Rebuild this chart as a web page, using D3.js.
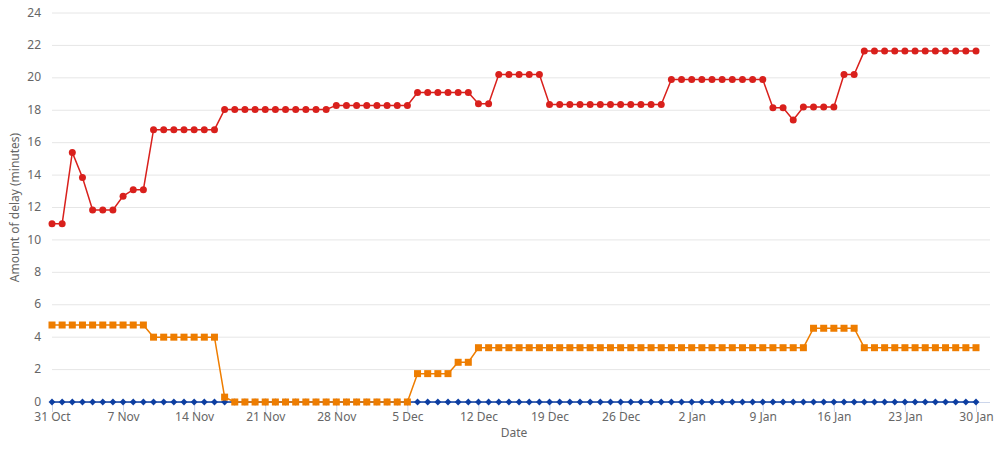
<!DOCTYPE html>
<html><head><meta charset="utf-8">
<script src="https://cdn.jsdelivr.net/npm/d3@7"></script>
<style>body{margin:0;background:#fff;font-family:"Noto Sans",sans-serif}</style>
</head><body><div id="chart"></div>
<script>
// values per day, from 31 Oct
const startDate = new Date(2021, 9, 31);
const redSeries = [11.0,11.0,15.4,13.85,11.85,11.85,11.85,12.7,13.1,13.1,
  16.8,16.8,16.8,16.8,16.8,16.8,16.8,
  18.05,18.05,18.05,18.05,18.05,18.05,18.05,18.05,18.05,18.05,18.05,
  18.3,18.3,18.3,18.3,18.3,18.3,18.3,18.3,
  19.1,19.1,19.1,19.1,19.1,19.1,18.4,18.4,20.2,20.2,20.2,20.2,20.2,
  18.35,18.35,18.35,18.35,18.35,18.35,18.35,18.35,18.35,18.35,18.35,18.35,
  19.9,19.9,19.9,19.9,19.9,19.9,19.9,19.9,19.9,19.9,
  18.15,18.15,17.4,18.2,18.2,18.2,18.2,20.2,20.2,
  21.65,21.65,21.65,21.65,21.65,21.65,21.65,21.65,21.65,21.65,21.65,21.65];
const orangeSeries = [4.75,4.75,4.75,4.75,4.75,4.75,4.75,4.75,4.75,4.75,
  4.0,4.0,4.0,4.0,4.0,4.0,4.0,0.3,
  0,0,0,0,0,0,0,0,0,0,0,0,0,0,0,0,0,0,
  1.75,1.75,1.75,1.75,2.45,2.45,
  3.35,3.35,3.35,3.35,3.35,3.35,3.35,3.35,3.35,3.35,3.35,3.35,3.35,3.35,3.35,3.35,3.35,
  3.35,3.35,3.35,3.35,3.35,3.35,3.35,3.35,3.35,3.35,3.35,3.35,3.35,3.35,3.35,3.35,
  4.55,4.55,4.55,4.55,4.55,
  3.35,3.35,3.35,3.35,3.35,3.35,3.35,3.35,3.35,3.35,3.35,3.35];
const blueSeries = redSeries.map(() => 0);
const yTicks = [0,2,4,6,8,10,12,14,16,18,20,22,24];

const width = 1000, height = 449;
const m = {top: 13, right: 24, bottom: 47, left: 52};
const svg = d3.select("#chart").append("svg").attr("width", width).attr("height", height);
const dates = redSeries.map((_, i) => d3.timeDay.offset(startDate, i));
const x = d3.scaleTime().domain([dates[0], dates[dates.length - 1]]).range([m.left, width - m.right]);
const y = d3.scaleLinear().domain([0, 24]).range([height - m.bottom, m.top]);

// grid
svg.append("g").selectAll("line").data(yTicks.slice(1)).join("line")
  .attr("x1", m.left).attr("x2", width - m.right + 14)
  .attr("y1", d => y(d)).attr("y2", d => y(d))
  .attr("stroke", "#e6e6e6");
svg.append("g").selectAll("text").data(yTicks).join("text")
  .attr("x", m.left - 11).attr("y", d => y(d)).attr("dy", "0.3em")
  .attr("text-anchor", "end").attr("font-size", 12).attr("fill", "#666").text(d => d);

// x axis
const xTicks = d3.range(0, dates.length, 7).map(i => dates[i]);
const xa = svg.append("g").attr("transform", `translate(0,${y(0)})`)
  .call(d3.axisBottom(x).tickValues(xTicks).tickFormat(d3.timeFormat("%-d %b")).tickSize(10).tickSizeOuter(0));
xa.select(".domain").attr("stroke", "#ccd6eb").attr("d", `M${m.left},0.5H${width - m.right + 14}`);
xa.selectAll(".tick line").attr("stroke", "#ccd6eb");
xa.selectAll("text").attr("font-size", 12).attr("fill", "#666").attr("dy", "0.5em").attr("font-family", "Noto Sans");

svg.append("text").attr("x", (m.left + width - m.right) / 2).attr("y", 437)
  .attr("text-anchor", "middle").attr("font-size", 12).attr("fill", "#666").text("Date");
svg.append("text").attr("transform", `translate(19,${(m.top + y(0)) / 2}) rotate(-90)`)
  .attr("text-anchor", "middle").attr("font-size", 12).attr("fill", "#666").text("Amount of delay (minutes)");

const line = d3.line().x((d, i) => x(dates[i])).y(d => y(d));
function drawSeries(vals, color, shape) {
  svg.append("path").datum(vals).attr("d", line).attr("fill", "none").attr("stroke", color).attr("stroke-width", 1.5);
  const g = svg.append("g").attr("fill", color);
  if (shape === "circle") {
    g.selectAll("circle").data(vals).join("circle").attr("cx", (d, i) => x(dates[i])).attr("cy", d => y(d)).attr("r", 3.5);
  } else if (shape === "square") {
    g.selectAll("rect").data(vals).join("rect").attr("x", (d, i) => x(dates[i]) - 3.5).attr("y", d => y(d) - 3.5).attr("width", 7).attr("height", 7);
  } else {
    g.selectAll("path").data(vals).join("path")
      .attr("d", d3.symbol(d3.symbolDiamond2, 30)).attr("transform", (d, i) => `translate(${x(dates[i])},${y(d)})`);
  }
}
drawSeries(blueSeries, "#0d3ea1", "diamond");
drawSeries(orangeSeries, "#ee7d00", "square");
drawSeries(redSeries, "#d9201c", "circle");
</script></body></html>
